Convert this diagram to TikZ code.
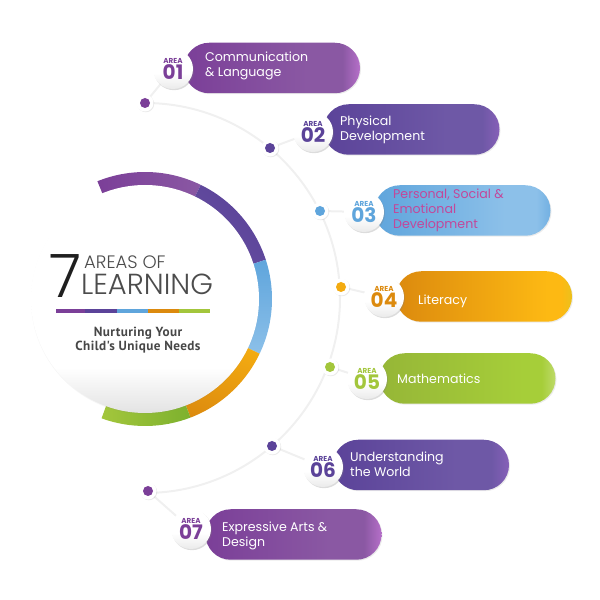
\documentclass[tikz,border=0pt]{standalone}
\usepackage{fontspec}
\usetikzlibrary{shapes.misc,shadows,backgrounds}
\setmainfont{Poppins}
\newfontfamily\taglinefont{PT Sans}[LetterSpace=3]
\newfontfamily\titlefont{Poppins Light}
\definecolor{cA}{HTML}{7B3F98}
\definecolor{cB}{HTML}{5B4399}
\definecolor{cC}{HTML}{5FA5DC}
\definecolor{cD}{HTML}{DC8A0E}
\definecolor{cE}{HTML}{A3C63C}
\definecolor{cMag}{HTML}{C2489A}
\definecolor{arcgray}{HTML}{F0F0F0}
\definecolor{endA}{HTML}{B56FC8}
\definecolor{midA}{HTML}{8A58A3}
\definecolor{endB}{HTML}{8660B8}
\definecolor{midB}{HTML}{6E58A6}
\definecolor{midC}{HTML}{8CC0E9}
\definecolor{endC}{HTML}{72B0E2}
\definecolor{midD}{HTML}{FDB913}
\definecolor{endD}{HTML}{EBC11C}
\definecolor{midE}{HTML}{A6CE39}
\definecolor{endE}{HTML}{BEDA6A}
\pgfdeclarehorizontalshading{pillA}{100bp}{color(0bp)=(cA); color(25bp)=(cA); color(60bp)=(midA); color(70bp)=(midA); color(75bp)=(endA); color(100bp)=(endA)}
\pgfdeclarehorizontalshading{pillB}{100bp}{color(0bp)=(cB); color(25bp)=(cB); color(60bp)=(midB); color(70bp)=(midB); color(75bp)=(endB); color(100bp)=(endB)}
\pgfdeclarehorizontalshading{pillC}{100bp}{color(0bp)=(cC); color(25bp)=(cC); color(62bp)=(midC); color(71bp)=(midC); color(75bp)=(endC); color(100bp)=(endC)}
\pgfdeclarehorizontalshading{pillD}{100bp}{color(0bp)=(cD); color(25bp)=(cD); color(68bp)=(midD); color(72bp)=(midD); color(75bp)=(endD); color(100bp)=(endD)}
\pgfdeclarehorizontalshading{pillE}{100bp}{color(0bp)=(cE!92!black); color(25bp)=(cE!92!black); color(66bp)=(midE); color(71bp)=(midE); color(75bp)=(endE); color(100bp)=(endE)}
\pgfdeclareverticalshading{discshade}{100bp}{color(0bp)=(black!11); color(25bp)=(black!11); color(35bp)=(white); color(100bp)=(white)}
\pgfdeclareverticalshading{badgeshade}{100bp}{color(0bp)=(black!8); color(25bp)=(black!8); color(45bp)=(white); color(100bp)=(white)}
\tikzset{
  softshadow/.style={drop shadow={opacity=.28,shadow xshift=1pt,shadow yshift=-1.2pt}},
  pill/.style={rounded rectangle,minimum width=176pt,minimum height=50.5pt,inner sep=0pt,shade,shading=#1,shading angle=0,drop shadow={opacity=.16,shadow xshift=1pt,shadow yshift=-1pt}},
  badge/.style={circle,minimum size=40pt,inner sep=0pt,shade,shading=badgeshade,shading angle=0,softshadow,align=center,text=#1,font=\bfseries},
  dotring/.style={circle,minimum size=17pt,inner sep=0pt,fill=white,drop shadow={opacity=.16,shadow xshift=.8pt,shadow yshift=-.8pt}},
  dotcore/.style={circle,minimum size=10pt,inner sep=0pt,fill=#1},
  pilltext/.style={anchor=west,inner sep=0pt,align=left,text=white,font=\fontsize{12.6}{15}\selectfont},
  link/.style={draw=arcgray,line width=2pt},
  barpart/.style={line width=3.6pt}
}
\newcommand\areamark[1]{{\fontsize{7.2}{8}\selectfont AREA}\\[0.5pt]{\fontsize{20}{18}\selectfont #1}}
\newcommand\ringseg[3]{\shade[#3] (145pt,301pt) ++(#1:127pt) arc[start angle=#1,end angle=#2,radius=127pt] -- ++(#2:-14pt) arc[start angle=#2,end angle=#1,radius=113pt] -- cycle;}
\begin{document}
\begin{tikzpicture}[x=1pt,y=1pt]
\useasboundingbox (0,0) rectangle (600,600);
% ring
\ringseg{112}{64}{left color=cA,right color=midA}
\ringseg{64}{18}{left color=cB,right color=midB,shading angle=-45}
\ringseg{18}{-25.5}{top color=cC,bottom color=midC}
\ringseg{-25.5}{-69}{left color=midD,right color=cD,shading angle=-20}
\ringseg{-69}{-110}{right color=cE!85!black!90!green,left color=cE}
% central disc
\node[circle,minimum size=228pt,inner sep=0pt,shade,shading=discshade,shading angle=0,drop shadow={opacity=.08,shadow xshift=0pt,shadow yshift=-1pt}] (disc) at (145,301) {};
\node[inner sep=0pt,text=black!88] (seven) at (65,324) {\titlefont\fontsize{60}{60}\selectfont 7};
\node[anchor=west,inner sep=0pt,text=black!70] (areas) at (84,337.5) {\titlefont\fontsize{18}{18}\selectfont AREAS OF};
\node[anchor=west,inner sep=0pt,text=black!70] (learning) at (81,316) {\titlefont\fontsize{29}{29}\selectfont LEARNING};
\coordinate (b0) at (56,289);
\coordinate (b1) at (85,289);
\coordinate (b2) at (117,289);
\coordinate (b3) at (148,289);
\coordinate (b4) at (179,289);
\coordinate (b5) at (210,289);
\draw[barpart,cA] (b0) -- (b1);
\draw[barpart,cB] (b1) -- (b2);
\draw[barpart,cC] (b2) -- (b3);
\draw[barpart,cD] (b3) -- (b4);
\draw[barpart,cE] (b4) -- (b5);
\node[align=center,inner sep=0pt,text=black!72,font=\taglinefont\bfseries\fontsize{13.2}{13.5}\selectfont] (tagline) at (138,260) {Nurturing Your\\Child's Unique Needs};
% pills
\node[pill=pillA] (p1) at (272,532) {};
\node[pill=pillB] (p2) at (411.5,470.5) {};
\node[pill=pillC] (p3) at (462.5,389.5) {};
\node[pill=pillD] (p4) at (484,303.5) {};
\node[pill=pillE] (p5) at (467.5,221.5) {};
\node[pill=pillB] (p6) at (421,135) {};
\node[pill=pillA] (p7) at (293.5,65.5) {};
% badges
\node[badge=cA] (a1) at (173,531) {\areamark{01}};
\node[badge=cB] (a2) at (313,468) {\areamark{02}};
\node[badge=cC] (a3) at (364,388) {\areamark{03}};
\node[badge=cD] (a4) at (384,303) {\areamark{04}};
\node[badge=cE] (a5) at (367,221) {\areamark{05}};
\node[badge=cB] (a6) at (323,133) {\areamark{06}};
\node[badge=cA] (a7) at (191,71) {\areamark{07}};
% dots
\node[dotring] (r1) at (145,497) {};
\node[dotring] (r2) at (270,452) {};
\node[dotring] (r3) at (320,389) {};
\node[dotring] (r4) at (341,313) {};
\node[dotring] (r5) at (330,233) {};
\node[dotring] (r6) at (272,154) {};
\node[dotring] (r7) at (148,109) {};
\node[dotcore=cA] (d1) at (r1) {};
\node[dotcore=cB] (d2) at (r2) {};
\node[dotcore=cC] (d3) at (r3) {};
\node[dotcore=midD!70!cD] (d4) at (r4) {};
\node[dotcore=cE] (d5) at (r5) {};
\node[dotcore=cB] (d6) at (r6) {};
\node[dotcore=cA] (d7) at (r7) {};
% text
\node[pilltext] (t1) at (205,534.5) {Communication\\\& Language};
\node[pilltext] (t2) at (340,470.5) {Physical\\Development};
\node[pilltext,text=cMag] (t3) at (393,389.5) {Personal, Social \&\\Emotional\\Development};
\node[pilltext] (t4) at (418,298.5) {Literacy};
\node[pilltext] (t5) at (397,221) {Mathematics};
\node[pilltext] (t6) at (350,136) {Understanding\\the World};
\node[pilltext] (t7) at (222,64) {Expressive Arts \&\\Design};
% connectors
\begin{scope}[on background layer]
\draw[link] (r1.center) arc[start angle=90,end angle=-89,radius=195pt];
\draw[link] (r1.center) -- (a1.center);
\draw[link] (r2.center) -- (a2.center);
\draw[link] (r3.center) -- (a3.center);
\draw[link] (r4.center) -- (a4.center);
\draw[link] (r5.center) -- (a5.center);
\draw[link] (r6.center) -- (a6.center);
\draw[link] (r7.center) -- (a7.center);
\end{scope}
\end{tikzpicture}
\end{document}
